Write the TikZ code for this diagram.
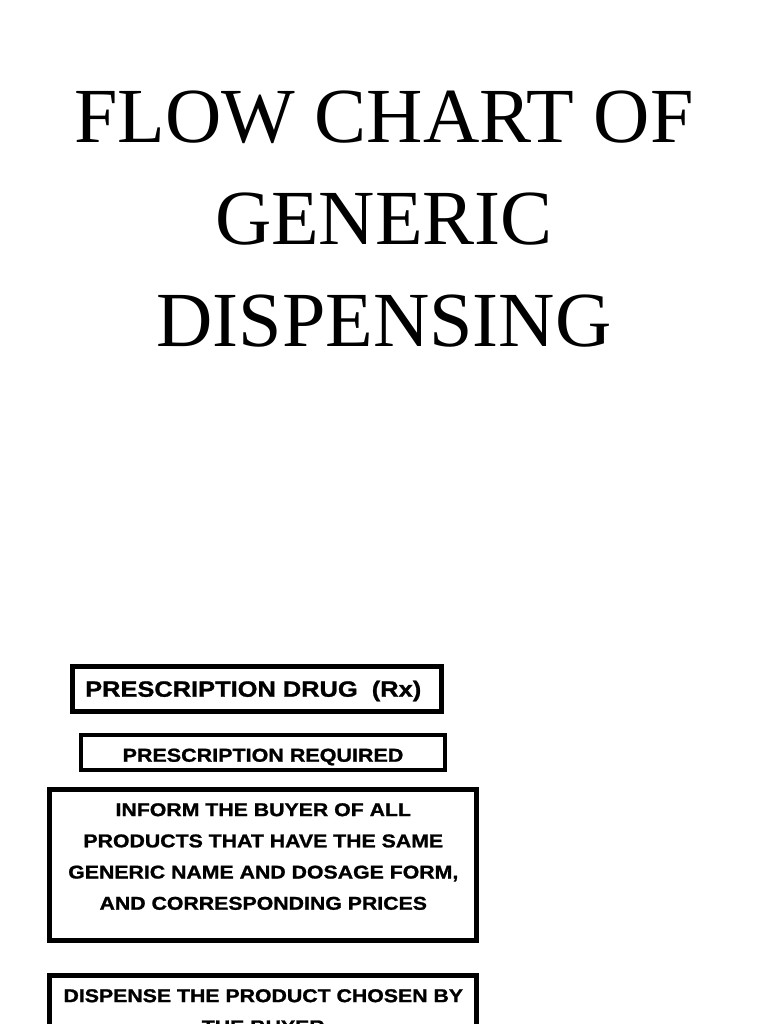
\documentclass[tikz,border=0pt]{standalone}
\usepackage{fontspec}
\setmainfont{Liberation Serif}
\newfontfamily\boxfont[FakeStretch=1.15, BoldFeatures={FakeBold=1.2}]{Liberation Sans}
\usetikzlibrary{positioning}
\tikzset{
  frame/.style={draw, line width=5pt, inner sep=0pt},
  boxtext/.style={font=\boxfont\bfseries\fontsize{18.5}{31.2}\selectfont, inner sep=0pt, align=center}
}

\begin{document}
\begin{tikzpicture}[x=1pt,y=-1pt]
      \useasboundingbox (0,0) rectangle (768,1024);
      \clip (0,0) rectangle (768,1024);

      % Title
      \node[font=\fontsize{78}{102}\selectfont, align=center, anchor=north] (title) at (384,87) {FLOW CHART OF\\GENERIC\\DISPENSING};

      % Frames of the steps
      \node[frame, minimum width=369, minimum height=45] (drug) at (257,689) {};
      \node[frame, line width=4pt, minimum width=364, minimum height=35] (required) at (263,752.2) {};
      \node[frame, minimum width=427, minimum height=151] (inform) at (263.3,865.3) {};
      \node[frame, minimum width=427, minimum height=200] (dispense) at (263.3,1075.8) {};

      % Texts of the steps
      \node[boxtext, font=\boxfont\bfseries\fontsize{22.1}{26}\selectfont, anchor=base west] (drugtxt) at (85,696.7) {PRESCRIPTION DRUG\ \ (Rx)};
      \node[boxtext, font=\boxfont\bfseries\fontsize{18.7}{24}\selectfont, anchor=base] (requiredtxt) at (263,761.7) {PRESCRIPTION REQUIRED};
      \node[boxtext, anchor=north] (informtxt) at (263.3,803) {INFORM THE BUYER OF ALL\\PRODUCTS THAT HAVE THE SAME\\GENERIC NAME AND DOSAGE FORM,\\AND CORRESPONDING PRICES};
      \node[boxtext, anchor=north] (dispensetxt) at (263.3,989) {DISPENSE THE PRODUCT CHOSEN BY\\THE BUYER};
\end{tikzpicture}
\end{document}
